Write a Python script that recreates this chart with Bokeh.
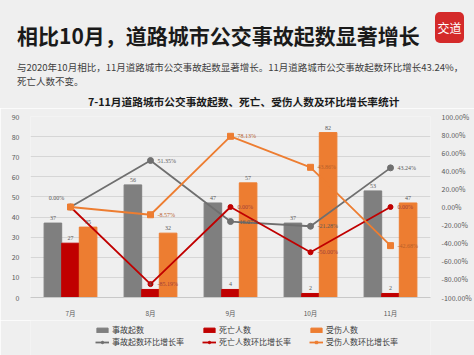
from bokeh.plotting import figure
from bokeh.models import (ColumnDataSource, FactorRange, Range1d, LinearAxis, LabelSet,
                          Legend, LegendItem, Div, FixedTicker, PrintfTickFormatter)
from bokeh.transform import dodge
from bokeh.layouts import column
from bokeh.embed import file_html
from bokeh.resources import INLINE

# ---------------- data ----------------
months = ["7月", "8月", "9月", "10月", "11月"]
accidents = [37, 56, 47, 37, 53]
deaths = [27, 4, 4, 2, 2]
injured = [35, 32, 57, 82, 47]
acc_rate = [0.00, 51.35, -16.07, -21.28, 43.24]
death_rate = [0.00, -85.19, 0.00, -50.00, 0.00]
inj_rate = [0.00, -8.57, 78.13, 43.86, -42.68]
left_ticks = [0, 10, 20, 30, 40, 50, 60, 70, 80, 90]
right_ticks = [-100, -80, -60, -40, -20, 0, 20, 40, 60, 80, 100]

title = "相比10月，道路城市公交事故起数显著增长"
subtitle1 = "与2020年10月相比，11月道路城市公交事故起数显著增长。11月道路城市公交事故起数环比增长43.24%，"
subtitle2 = "死亡人数不变。"
chart_title = "7-11月道路城市公交事故起数、死亡、受伤人数及环比增长率统计"
logo_text = "交道"
series_names = ["事故起数", "死亡人数", "受伤人数",
                "事故起数环比增长率", "死亡人数环比增长率", "受伤人数环比增长率"]

# ---------------- style ----------------
BG = "#efefef"
GRAY = "#7f7f7f"
LGRAY = "#6f6f6f"
RED = "#c00000"
ORANGE = "#ed7d31"
FONT = "Noto Sans CJK SC"
TXT = "#595959"

header = Div(text=f"""
<div style="position:relative;width:474px;height:108px;background:{BG};font-family:'{FONT}';overflow:hidden;">
  <div style="position:absolute;left:17px;top:20px;font-size:21px;font-weight:bold;color:#1a1a1a;line-height:30px;white-space:nowrap;">{title}</div>
  <div style="position:absolute;left:435px;top:12px;width:29px;height:31px;background:#d42a2a;border-radius:5px;color:white;font-size:12px;line-height:31px;text-align:center;">{logo_text}</div>
  <div style="position:absolute;left:17px;top:61px;font-size:9.5px;color:#404040;line-height:13.5px;white-space:nowrap;">{subtitle1}<br>{subtitle2}</div>
  <div style="position:absolute;left:88px;top:95px;font-size:10.7px;font-weight:bold;color:#1a1a1a;line-height:14px;white-space:nowrap;">{chart_title}</div>
</div>""", width=474, height=108, margin=0)

src = ColumnDataSource(dict(
    m=months, acc=accidents, dea=deaths, inj=injured,
    ar=acc_rate, dr=death_rate, ir=inj_rate,
    acc_t=[str(v) for v in accidents],
    dea_t=[str(v) for v in deaths],
    inj_t=[str(v) for v in injured],
    ar_t=[""] + [f"{v:.2f}%" for v in acc_rate[1:]],
    dr_t=[""] + [f"{v:.2f}%" for v in death_rate[1:]],
    ir_t=[""] + [f"{v:.2f}%" for v in inj_rate[1:]],
))
first_src = ColumnDataSource(dict(m=months[:1], ar=acc_rate[:1], t=[f"{acc_rate[0]:.2f}%"]))

p = figure(x_range=FactorRange(factors=months, range_padding=0), y_range=Range1d(0, 90),
           width=474, height=212, output_backend="svg", toolbar_location=None,
           min_border_left=30, min_border_right=37, min_border_top=8, min_border_bottom=15,
           background_fill_color=BG, border_fill_color=BG, outline_line_color=None)
p.extra_y_ranges = {"pct": Range1d(-100, 100)}

W = 0.22
p.vbar(x=dodge("m", -W, range=p.x_range), top="acc", width=W, source=src, color=GRAY)
p.vbar(x=dodge("m", 0, range=p.x_range), top="dea", width=W, source=src, color=RED)
p.vbar(x=dodge("m", W, range=p.x_range), top="inj", width=W, source=src, color=ORANGE)

for off, col, ycol in [(-W, "acc_t", "acc"), (0, "dea_t", "dea"), (W, "inj_t", "inj")]:
    p.add_layout(LabelSet(x=dodge("m", off, range=p.x_range), y=ycol, text=col, source=src,
                          y_offset=3, text_align="center", text_baseline="bottom",
                          text_font_size="6px", text_color=TXT, text_font=FONT))

p.line("m", "ar", source=src, y_range_name="pct", color=LGRAY, line_width=1.8)
p.scatter("m", "ar", source=src, y_range_name="pct", color=LGRAY, size=6, marker="circle")
p.line("m", "dr", source=src, y_range_name="pct", color=RED, line_width=1.8)
p.scatter("m", "dr", source=src, y_range_name="pct", color=RED, size=5, marker="circle")
p.line("m", "ir", source=src, y_range_name="pct", color=ORANGE, line_width=1.8)
p.scatter("m", "ir", source=src, y_range_name="pct", color=ORANGE, size=6, marker="square")

for col, ycol, c in [("ar_t", "ar", "#595959"), ("dr_t", "dr", "#a0403a"), ("ir_t", "ir", "#b8602a")]:
    p.add_layout(LabelSet(x="m", y=ycol, text=col, source=src, y_range_name="pct",
                          x_offset=7, text_align="left", text_baseline="middle",
                          text_font_size="6px", text_color=c, text_font=FONT))
p.add_layout(LabelSet(x="m", y="ar", text="t", source=first_src, y_range_name="pct",
                      x_offset=-14, y_offset=9, text_align="center", text_baseline="middle",
                      text_font_size="6px", text_color="#595959", text_font=FONT))

# axes
p.yaxis.ticker = FixedTicker(ticks=left_ticks)
p.yaxis.axis_line_color = None
p.yaxis.major_tick_line_color = None
p.yaxis.minor_tick_line_color = None
p.yaxis.major_label_text_font_size = "7px"
p.yaxis.major_label_text_color = TXT
p.yaxis.major_label_text_font = FONT
p.yaxis.major_label_standoff = 5

ra = LinearAxis(y_range_name="pct", ticker=FixedTicker(ticks=right_ticks),
                formatter=PrintfTickFormatter(format="%.2f%%"))
ra.axis_line_color = None
ra.major_tick_line_color = None
ra.minor_tick_line_color = None
ra.major_label_text_font_size = "7px"
ra.major_label_text_color = TXT
ra.major_label_text_font = FONT
ra.major_label_standoff = 5
p.add_layout(ra, "right")

p.xaxis.axis_line_color = "#c8c8c8"
p.xaxis.major_tick_line_color = None
p.xaxis.minor_tick_line_color = None
p.xaxis.major_label_text_font_size = "6.5px"
p.xaxis.major_label_text_color = TXT
p.xaxis.major_label_text_font = FONT
p.xaxis.major_label_standoff = 4

p.xgrid.grid_line_color = None
p.ygrid.grid_line_color = "#d6d6d6"
p.ygrid.grid_line_width = 1

# ---------------- legend strip (separate small figure) ----------------
lg = figure(width=474, height=35, output_backend="svg", toolbar_location=None,
            x_range=Range1d(0, 1), y_range=Range1d(0, 1),
            x_axis_location=None, y_axis_location=None,
            min_border=0, background_fill_color=BG, border_fill_color=BG,
            outline_line_color=None)
lg.grid.visible = False
# legend proxies: kept off-canvas, only their styles are shown in the legend
proxy = ColumnDataSource(dict(x=[-5], y=[-5], top=[-5]))
r1 = lg.vbar(x="x", top="top", width=0.1, source=proxy, color=GRAY)
r2 = lg.vbar(x="x", top="top", width=0.1, source=proxy, color=RED)
r3 = lg.vbar(x="x", top="top", width=0.1, source=proxy, color=ORANGE)
r4a = lg.line("x", "y", source=proxy, color=LGRAY, line_width=1.8)
r4b = lg.scatter("x", "y", source=proxy, color=LGRAY, size=5, marker="circle")
r5a = lg.line("x", "y", source=proxy, color=RED, line_width=1.8)
r5b = lg.scatter("x", "y", source=proxy, color=RED, size=4, marker="circle")
r6a = lg.line("x", "y", source=proxy, color=ORANGE, line_width=1.8)
r6b = lg.scatter("x", "y", source=proxy, color=ORANGE, size=5, marker="square")

common = dict(orientation="horizontal", label_text_font_size="8px", label_text_font=FONT,
              label_text_color="#404040", glyph_width=14, glyph_height=6, label_standoff=3,
              padding=0, margin=0, background_fill_alpha=0, border_line_color=None,
              label_height=10)
leg1 = Legend(items=[
    LegendItem(label=series_names[0], renderers=[r1]),
    LegendItem(label=series_names[1], renderers=[r2]),
    LegendItem(label=series_names[2], renderers=[r3]),
], location=(65, 20), spacing=58, **common)
leg2 = Legend(items=[
    LegendItem(label=series_names[3], renderers=[r4a, r4b]),
    LegendItem(label=series_names[4], renderers=[r5a, r5b]),
    LegendItem(label=series_names[5], renderers=[r6a, r6b]),
], location=(65, 8), spacing=18, **common)
lg.add_layout(leg1)
lg.add_layout(leg2)

layout = column(header, p, lg, spacing=0)
open("out.html", "w").write(file_html(layout, INLINE))
